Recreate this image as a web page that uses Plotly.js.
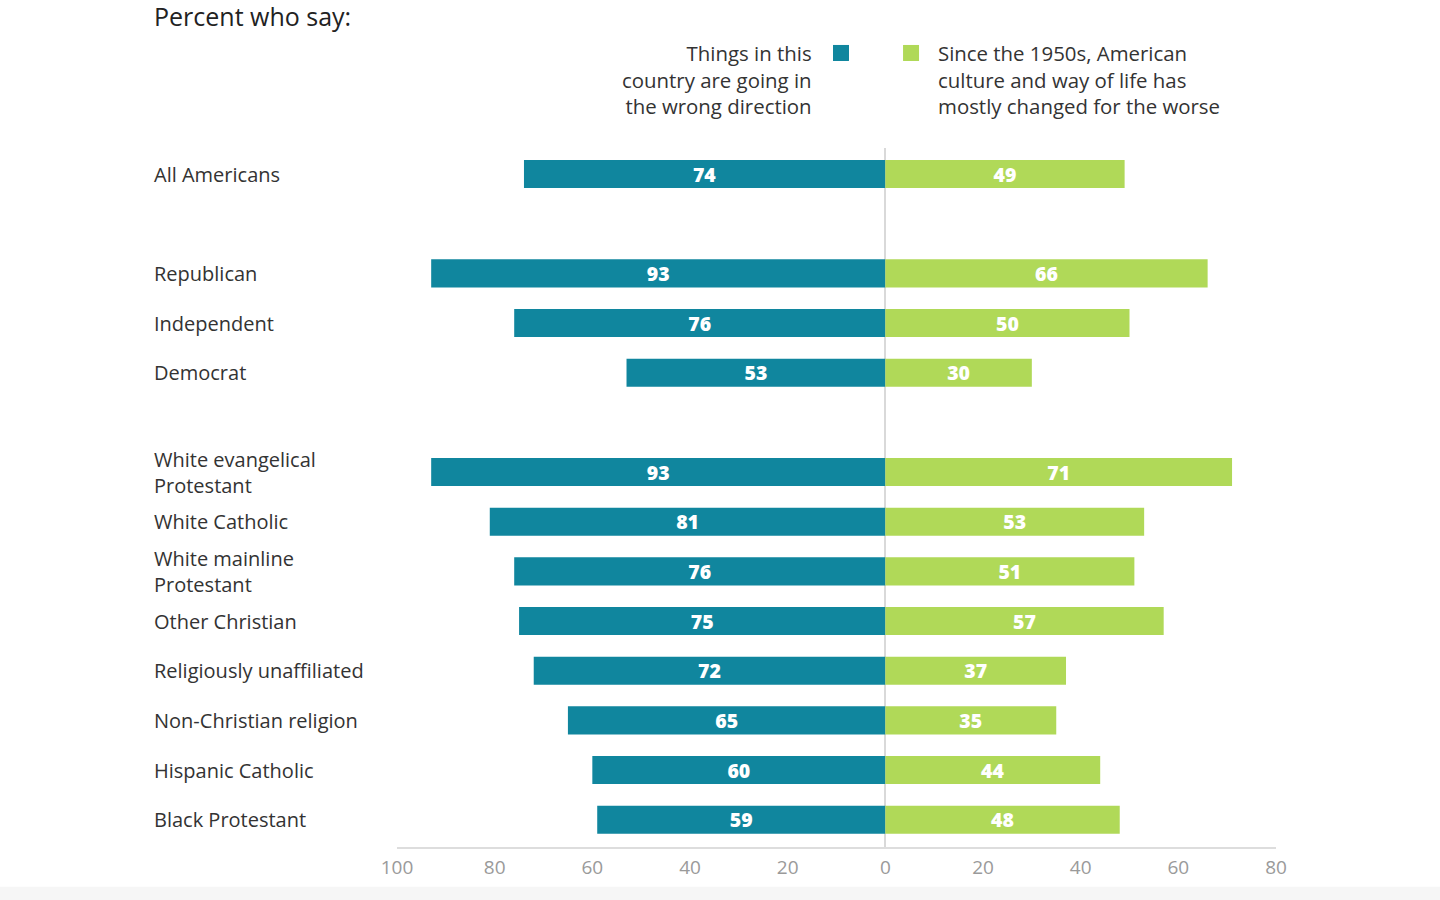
<!DOCTYPE html>
<html>
<head>
<meta charset="utf-8">
<script src="https://cdn.plot.ly/plotly-3.0.1.min.js"></script>
<style>
  html, body { margin: 0; padding: 0; background: #ffffff; }
  #chart { width: 1440px; height: 900px; }
</style>
</head>
<body>
<div id="chart"></div>
<script>
// Groups of respondents, drawn top to bottom with a blank row between groups
const groupAll = ['All Americans'];
const groupParty = ['Republican', 'Independent', 'Democrat'];
const groupReligion = [
  'White evangelical<br>Protestant',
  'White Catholic',
  'White mainline<br>Protestant',
  'Other Christian',
  'Religiously unaffiliated',
  'Non-Christian religion',
  'Hispanic Catholic',
  'Black Protestant'
];

// Percent who say things in this country are going in the wrong direction
const wrongDirection = [74, 93, 76, 53, 93, 81, 76, 75, 72, 65, 60, 59];
// Percent who say American culture has mostly changed for the worse since the 1950s
const changedForWorse = [49, 66, 50, 30, 71, 53, 51, 57, 37, 35, 44, 48];

const tickValues = [-100, -80, -60, -40, -20, 0, 20, 40, 60, 80];
const tickLabels = ['100', '80', '60', '40', '20', '0', '20', '40', '60', '80'];

const legendWrong = 'Things in this<br>country are going in<br>the wrong direction';
const legendWorse = 'Since the 1950s, American<br>culture and way of life has<br>mostly changed for the worse';

const TEAL = '#10869e';
const GREEN = '#b0d958';
const FONT = '"Open Sans", "Noto Sans", sans-serif';

// Row index for each category, leaving one empty row between groups
const categories = [];
const rows = [];
let r = 0;
[groupAll, groupParty, groupReligion].forEach((g, gi) => {
  if (gi > 0) r += 1;
  g.forEach(name => { categories.push(name); rows.push(r); r += 1; });
});
const lastRow = rows[rows.length - 1];

const barCommon = {
  type: 'bar',
  orientation: 'h',
  y: rows,
  width: 0.565,
  textposition: 'inside',
  insidetextanchor: 'middle',
  textangle: 0,
  constraintext: 'none',
  textfont: { family: FONT, size: 19.5, color: '#ffffff', weight: 800 },
  hoverinfo: 'skip',
  showlegend: false
};

const traces = [
  Object.assign({}, barCommon, {
    x: wrongDirection.map(v => -v),
    text: wrongDirection.map(String),
    marker: { color: TEAL }
  }),
  Object.assign({}, barCommon, {
    x: changedForWorse,
    text: changedForWorse.map(String),
    marker: { color: GREEN }
  })
];

// Category labels, left aligned in the margin
const annotations = categories.map((name, i) => ({
  text: name,
  xref: 'paper', yref: 'y',
  x: -0.2787, y: rows[i],
  xanchor: 'left', yanchor: 'middle',
  align: 'left',
  showarrow: false,
  font: { family: FONT, size: 20, color: '#333333' }
}));

// Legend text
annotations.push({
  text: legendWrong,
  xref: 'paper', yref: 'paper',
  x: 0.4744, y: 1.0987,
  xanchor: 'right', yanchor: 'middle', align: 'right',
  showarrow: false,
  font: { family: FONT, size: 20.4, color: '#333333' }
});
annotations.push({
  text: legendWorse,
  xref: 'paper', yref: 'paper',
  x: 0.6132, y: 1.0987,
  xanchor: 'left', yanchor: 'middle', align: 'left',
  showarrow: false,
  font: { family: FONT, size: 20.4, color: '#333333' }
});

const shapes = [
  // legend swatches
  { type: 'rect', xref: 'paper', yref: 'paper', x0: 0.4960, x1: 0.5142, y0: 1.1245, y1: 1.1474,
    fillcolor: TEAL, line: { width: 0 } },
  { type: 'rect', xref: 'paper', yref: 'paper', x0: 0.5757, x1: 0.5939, y0: 1.1245, y1: 1.1474,
    fillcolor: GREEN, line: { width: 0 } },
  // pale footer band
  { type: 'rect', xref: 'paper', yref: 'paper', x0: -0.5, x1: 1.3, y0: -0.057, y1: -0.08,
    fillcolor: '#f6f6f6', line: { width: 0 }, layer: 'below' }
];

const layout = {
  width: 1440,
  height: 900,
  paper_bgcolor: '#ffffff',
  plot_bgcolor: '#ffffff',
  margin: { l: 397, r: 164, t: 148, b: 53 },
  barmode: 'overlay',
  font: { family: FONT, color: '#333333' },
  title: {
    text: 'Percent who say:',
    x: 154 / 1440, xref: 'container', xanchor: 'left',
    y: 1 - 17 / 900, yref: 'container', yanchor: 'middle',
    font: { family: FONT, size: 25, color: '#222222' }
  },
  xaxis: {
    range: [-100, 80],
    tickvals: tickValues,
    ticktext: tickLabels,
    tickfont: { family: FONT, size: 19, color: '#9a9a9a' },
    ticklabelstandoff: 2,
    showgrid: false,
    zeroline: true,
    zerolinecolor: '#d9d9d9',
    zerolinewidth: 2,
    showline: true,
    linecolor: '#dddddd',
    linewidth: 2,
    ticks: '',
    ticklen: 0,
    fixedrange: true
  },
  yaxis: {
    range: [lastRow + 0.55, -0.525],
    showticklabels: false,
    showgrid: false,
    zeroline: false,
    showline: false,
    ticks: '',
    fixedrange: true
  },
  annotations: annotations,
  shapes: shapes
};

Plotly.newPlot('chart', traces, layout, { displayModeBar: false, staticPlot: true });
</script>
</body>
</html>
